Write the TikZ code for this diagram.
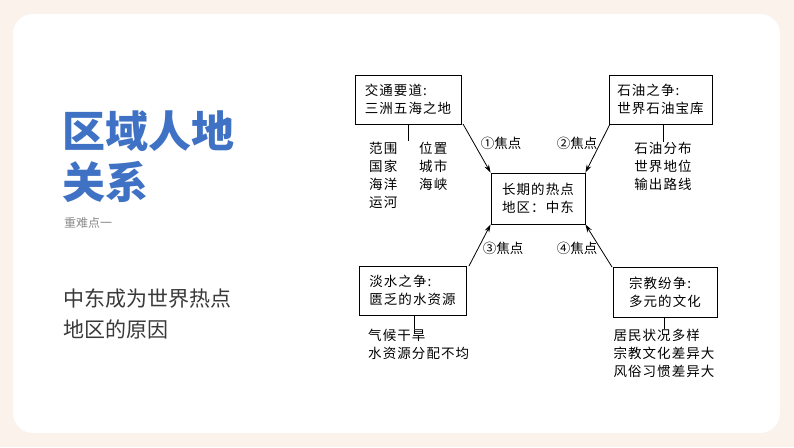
\documentclass[tikz,border=0pt]{standalone}
\usepackage{fontspec}
\setmainfont{Noto Sans CJK SC}
\newfontfamily\cjk{Noto Sans CJK SC}
\newfontfamily\cjkwide[LetterSpace=8]{Noto Sans CJK SC}
\usetikzlibrary{arrows.meta}
\definecolor{bgpeach}{HTML}{FBF2EC}
\definecolor{titleblue}{HTML}{3F72C4}
\definecolor{subgray}{HTML}{8A8A8A}
\definecolor{bodygray}{HTML}{3A3A3A}

\begin{document}
\begin{tikzpicture}[x=1pt, y=-1pt,
    every node/.style={inner sep=0pt, font=\cjk},
    topic/.style={draw, line width=0.8pt, minimum width=106pt, minimum height=49pt, align=left, font=\cjkwide\fontsize{13.5}{18}\selectfont},
    hub/.style={topic, minimum width=94pt, minimum height=51pt},
    facts/.style={font=\cjkwide\fontsize{13.5}{18}\selectfont},
    focus/.style={font=\cjk\fontsize{13.5}{15}\selectfont},
    link/.style={line width=0.8pt, -{Stealth[length=8pt,width=5pt]}}]
    \useasboundingbox (0,0) rectangle (794,447);
    \fill[bgpeach] (0,0) rectangle (794,447);
    \fill[white, rounded corners=20pt] (13,14) rectangle (780,433);

    % left column
    \node[anchor=west, text=titleblue, font=\cjk\bfseries\fontsize{43}{48}\selectfont] (t1) at (62,131) {区域人地};
    \node[anchor=west, text=titleblue, font=\cjk\bfseries\fontsize{43}{48}\selectfont] (t2) at (62,182) {关系};
    \node[anchor=west, text=subgray, font=\cjk\fontsize{12}{14}\selectfont] (sub) at (64,223) {重难点一};
    \node[anchor=north west, align=left, text=bodygray, font=\cjk\fontsize{21}{31}\selectfont] (why) at (63,289) {中东成为世界热点\\地区的原因};

    % boxes
    \node[hub, align=center] (mid) at (538,198.5) {长期的热点\\地区：中东};
    \node[topic] (traffic) at (408,99.5) {交通要道:\\三洲五海之地};
    \node[topic, minimum width=103pt] (oil) at (660.5,99.5) {石油之争:\\世界石油宝库};
    \node[topic, minimum width=107pt] (water) at (412.5,290.5) {淡水之争:\\匮乏的水资源};
    \node[topic, minimum width=104pt, minimum height=50pt] (faith) at (665,292) {宗教纷争:\\多元的文化};

    % arrows
    \draw[link] (463,124) -- (mid.north west);
    \draw[link] (610,124) -- (mid.north east);
    \draw[link] (469,266) -- (mid.south west);
    \draw[link] (612,267) -- (mid.south east);
    \node[focus] (f1) at (501,143) {①焦点};
    \node[focus] (f2) at (577,143) {②焦点};
    \node[focus] (f3) at (503,248) {③焦点};
    \node[focus] (f4) at (577,248) {④焦点};

    % details
    \node[facts, anchor=north west, align=left] (d1a) at (369,142) {范围\\国家\\海洋\\运河};
    \node[facts, anchor=north west, align=left] (d1b) at (419,142) {位置\\城市\\海峡};
    \draw[line width=0.8pt] (traffic.south) -- (408,141);
    \node[facts, anchor=north, align=left] (d2) at (663,142) {石油分布\\世界地位\\输出路线};
    \draw[line width=0.8pt] (663,124) -- (d2.north);
    \node[facts, anchor=north west, align=left] (d3) at (368,329) {气候干旱\\水资源分配不均};
    \draw[line width=0.8pt] (414,315) -- (414,329);
    \node[facts, anchor=north, align=left] (d4) at (664,329) {居民状况多样\\宗教文化差异大\\风俗习惯差异大};
    \draw[line width=0.8pt] (664,317) -- (d4.north);
\end{tikzpicture}
\end{document}
